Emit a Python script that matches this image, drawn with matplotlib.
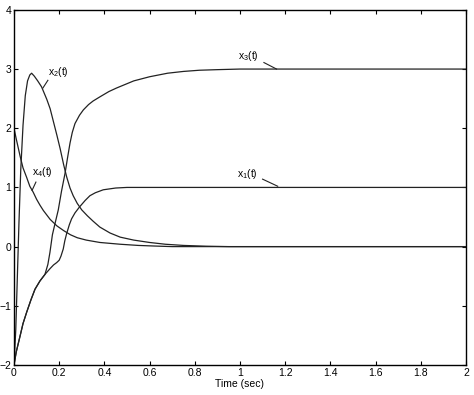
import matplotlib.pyplot as plt

plt.rcParams['font.family'] = ['Liberation Sans', 'DejaVu Sans']
plt.rcParams['mathtext.fontset'] = 'custom'
plt.rcParams['mathtext.rm'] = 'Liberation Sans'
plt.rcParams['mathtext.it'] = 'Liberation Sans'

# state trajectories
t2 = [0, 0.008, 0.015, 0.022, 0.03, 0.04, 0.05, 0.06, 0.07, 0.078, 0.09, 0.105,
      0.122, 0.145, 0.16, 0.174, 0.19, 0.204, 0.22, 0.233, 0.248, 0.262, 0.28,
      0.3, 0.325, 0.35, 0.38, 0.425, 0.47, 0.53, 0.6, 0.67, 0.75, 0.85, 0.95, 2.0]
x2 = [-2, -1.4, -0.5, 0.4, 1.3, 2.05, 2.55, 2.8, 2.9, 2.93, 2.88, 2.8,
      2.7, 2.49, 2.33, 2.12, 1.88, 1.66, 1.38, 1.18, 0.99, 0.86, 0.73,
      0.62, 0.52, 0.43, 0.33, 0.23, 0.16, 0.11, 0.07, 0.04, 0.02, 0.007, 0, 0]

t4 = [0, 0.01, 0.027, 0.04, 0.056, 0.07, 0.085, 0.1, 0.115, 0.13, 0.16, 0.19,
      0.22, 0.25, 0.28, 0.32, 0.38, 0.47, 0.55, 0.62, 0.7, 2.0]
x4 = [2, 1.82, 1.53, 1.33, 1.17, 1.02, 0.92, 0.8, 0.7, 0.61, 0.46, 0.35,
      0.27, 0.2, 0.15, 0.11, 0.07, 0.04, 0.02, 0.01, 0, 0]

t3 = [0, 0.01, 0.027, 0.04, 0.056, 0.075, 0.093, 0.115, 0.137, 0.15, 0.159,
      0.17, 0.181, 0.196, 0.21, 0.226, 0.237, 0.248, 0.258, 0.27, 0.29, 0.307,
      0.33, 0.35, 0.38, 0.42, 0.454, 0.53, 0.6, 0.68, 0.75, 0.82, 0.9, 1.0, 2.0]
x3 = [-2, -1.78, -1.51, -1.3, -1.11, -0.9, -0.72, -0.58, -0.47, -0.3, -0.1,
      0.2, 0.38, 0.62, 0.93, 1.24, 1.5, 1.75, 1.93, 2.08, 2.22, 2.31,
      2.4, 2.46, 2.53, 2.62, 2.68, 2.8, 2.87, 2.93, 2.96, 2.98, 2.99, 3.0, 3.0]

t1 = [0, 0.01, 0.027, 0.04, 0.056, 0.075, 0.093, 0.115, 0.137, 0.16, 0.175,
      0.189, 0.2, 0.208, 0.218, 0.225, 0.233, 0.245, 0.255, 0.27, 0.29,
      0.315, 0.336, 0.36, 0.395, 0.45, 0.5, 2.0]
x1 = [-2, -1.78, -1.51, -1.3, -1.11, -0.9, -0.72, -0.58, -0.47, -0.37, -0.31,
      -0.27, -0.23, -0.16, -0.04, 0.1, 0.22, 0.37, 0.47, 0.57, 0.67,
      0.78, 0.86, 0.91, 0.96, 0.99, 1.0, 1.0]

fig = plt.figure(figsize=(4.74, 3.95), dpi=100)
ax = fig.add_axes([0.0295, 0.076, 0.9535, 0.899])

for t, x in [(t1, x1), (t2, x2), (t3, x3), (t4, x4)]:
    ax.plot(t, x, color='#222222', linewidth=0.9)

# labels with little leader lines
labels = [
    ('x$_2$(t)', (0.150, 2.83), (0.150, 2.81), (0.128, 2.68)),
    ('x$_4$(t)', (0.080, 1.14), (0.097, 1.09), (0.080, 0.95)),
    ('x$_3$(t)', (0.991, 3.10), (1.106, 3.11), (1.162, 3.0)),
    ('x$_1$(t)', (0.987, 1.11), (1.100, 1.14), (1.167, 1.02)),
]
for txt, pos, a, b in labels:
    ax.text(pos[0], pos[1], txt, fontsize=7.5, ha='left', va='bottom')
    ax.plot([a[0], b[0]], [a[1], b[1]], color='#222222', linewidth=0.8)

ax.set_xlim(0, 2)
ax.set_ylim(-2, 4)
ax.set_xticks([0, 0.2, 0.4, 0.6, 0.8, 1, 1.2, 1.4, 1.6, 1.8, 2])
ax.set_xticklabels(['0', '0.2', '0.4', '0.6', '0.8', '1', '1.2', '1.4', '1.6', '1.8', '2'])
ax.set_yticks([-2, -1, 0, 1, 2, 3, 4])
ax.tick_params(direction='in', length=3, width=0.8, top=True, right=True,
               labelsize=7.5, pad=2)
for s in ax.spines.values():
    s.set_linewidth(1.0)
ax.set_xlabel('Time (sec)', fontsize=7.5, labelpad=1)

fig.savefig('out.png', dpi=100)
